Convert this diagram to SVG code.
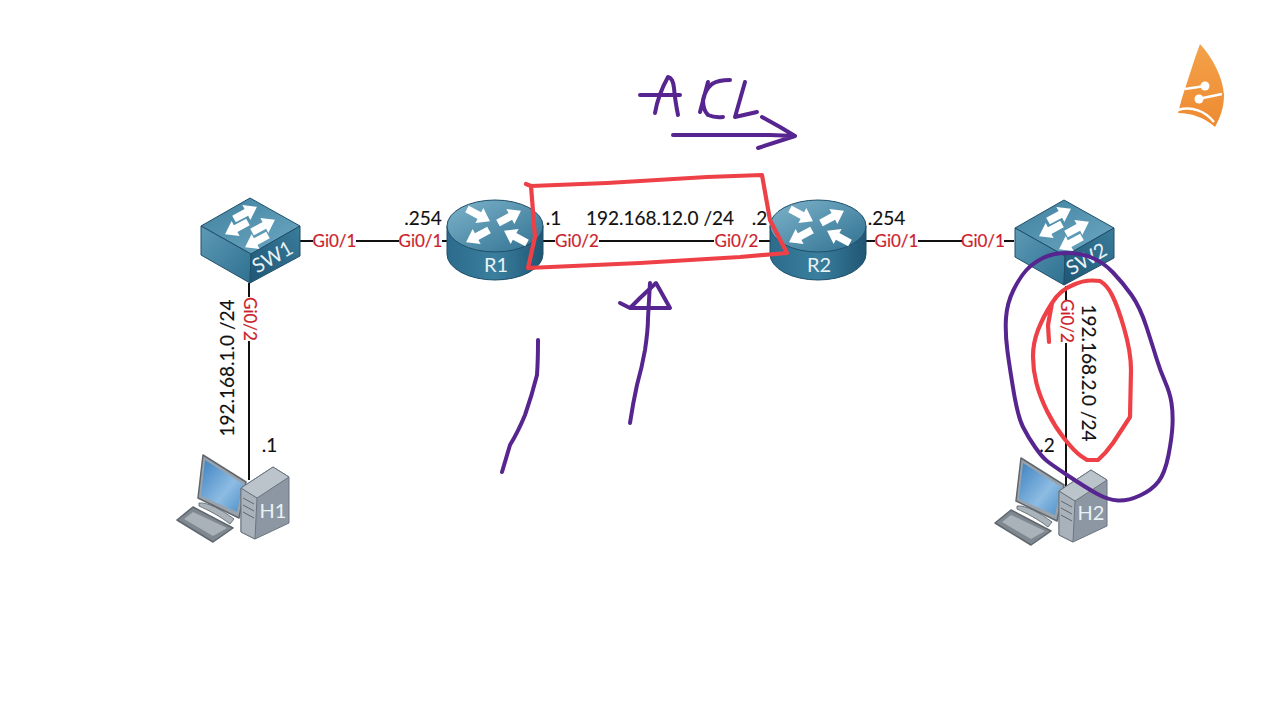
<svg xmlns="http://www.w3.org/2000/svg" xmlns:xlink="http://www.w3.org/1999/xlink" width="1280" height="720" viewBox="0 0 1280 720">
<style>
text{font-family:"Lato","Carlito","Open Sans",sans-serif}
.g{fill:#cc1f2d;stroke:#cc1f2d;stroke-width:.2;font-size:17px;text-anchor:middle}
.b{fill:#111;stroke:#111;stroke-width:.15;font-size:19px;text-anchor:middle}
.n{fill:#e8f2f6;font-size:20px;text-anchor:middle}
.c{stroke:#111;stroke-width:2;fill:none}
.r{fill:none;stroke:#ee4147;stroke-width:4.2;stroke-linecap:round;stroke-linejoin:round}
.p{fill:none;stroke:#57258f;stroke-width:4;stroke-linecap:round;stroke-linejoin:round}
</style>
<defs>
<linearGradient id="top" x1="0" y1="0" x2="1" y2="1"><stop offset="0" stop-color="#3f819f"/><stop offset="1" stop-color="#6fa9c3"/></linearGradient>
<linearGradient id="lf" x1="0" y1="0" x2="1" y2="1"><stop offset="0" stop-color="#5d9ab6"/><stop offset="1" stop-color="#2f7090"/></linearGradient>
<linearGradient id="rt" x1="0" y1="1" x2="1" y2="0"><stop offset="0" stop-color="#1f5675"/><stop offset="1" stop-color="#3a7c9b"/></linearGradient>
<linearGradient id="rtop" x1="0" y1="0" x2="1" y2="1"><stop offset="0" stop-color="#7fb4cb"/><stop offset="1" stop-color="#2e7090"/></linearGradient>
<linearGradient id="rbody" x1="0" y1="0" x2="1" y2="0"><stop offset="0" stop-color="#2c6b8b"/><stop offset="0.5" stop-color="#3a7f9e"/><stop offset="1" stop-color="#205674"/></linearGradient>
<linearGradient id="scr" x1="0" y1="0" x2="1" y2="1"><stop offset="0" stop-color="#3d82c0"/><stop offset="0.6" stop-color="#8dbce3"/><stop offset="1" stop-color="#4f90c8"/></linearGradient>
<linearGradient id="logoG" x1="0" y1="0" x2="0" y2="1"><stop offset="0" stop-color="#f3a24b"/><stop offset="1" stop-color="#ee8a30"/></linearGradient>
<path id="ar" d="M0-3.800H14V-8.500L26 0 14 8.500V3.800H0Z" fill="#fff"/>
<g id="sw">
<path d="M250 198 300 226 251 254 201 226Z" fill="url(#top)" stroke="#1f4f6a"/>
<path d="M201 226 251 254 250 283 201 255Z" fill="url(#lf)" stroke="#1f4f6a"/>
<path d="M300 226 251 254 250 283 300 256Z" fill="url(#rt)" stroke="#1f4f6a"/>
<use xlink:href="#ar" href="#ar" transform="translate(234 219) rotate(-28)"/>
<use xlink:href="#ar" href="#ar" transform="translate(248 222) rotate(152)"/>
<use xlink:href="#ar" href="#ar" transform="translate(252 232) rotate(-28)"/>
<use xlink:href="#ar" href="#ar" transform="translate(268 235) rotate(152)"/>
</g>
<g id="rtr">
<path d="M447 226V254A48 26 0 0 0 543 254V226Z" fill="url(#rbody)" stroke="#1f4f6a"/>
<ellipse cx="495" cy="226" rx="48" ry="26" fill="url(#rtop)" stroke="#1f4f6a"/>
<use xlink:href="#ar" href="#ar" transform="translate(467 209) rotate(28)"/>
<use xlink:href="#ar" href="#ar" transform="translate(498 223) rotate(-28)"/>
<use xlink:href="#ar" href="#ar" transform="translate(489 230) rotate(152)"/>
<use xlink:href="#ar" href="#ar" transform="translate(527 243) rotate(208)"/>
</g>
<g id="pc">
<path d="M213 542 177 520 193 507 233 528Z" fill="#7f8890" stroke="#5e666e" stroke-linejoin="round" stroke-width="1.500"/>
<path d="M213 536 184 519 193 512 227 528Z" fill="#aab2b9"/>
<path d="M199 503C208 502 222 510 234 519L230 524C220 516 208 510 199 506Z" fill="#aab2ba" stroke="#6d757d"/>
<path d="M203 455 246 482 239 518 198 498Z" fill="#9aa3ab" stroke="#5e666e" stroke-width="1.500" stroke-linejoin="round"/>
<path d="M205 460 243 484 237 512 201 496Z" fill="url(#scr)"/>
<path d="M273 467 289 477V523L255 539 241 532V488Z" fill="#8c97a3" stroke="#6b7580"/>
<path d="M241 488 257 498 255 539 241 532Z" fill="#a9b2ba" stroke="#6b7580"/>
<path d="M241 488 273 467 289 477 257 498Z" fill="#bcc4cb" stroke="#6b7580"/>
<path d="M243 498 254 504M243 505 254 511M243 512 254 518" stroke="#5e666e" fill="none"/>
</g>
</defs>
<rect width="1280" height="720" fill="#fff"/>

<g id="connectors">
<path class="c" d="M300 241H313M356 241H399M442 241H447"/>
<path class="c" d="M543 241H555M599 241H714M759 241H771"/>
<path class="c" d="M866 241H875M918 241H962M1004 241H1014"/>
<path class="c" d="M249 283V297M249 341V480"/>
<path class="c" d="M1066 286V300M1066 343V486"/>
</g>

<g id="SW1"><use xlink:href="#sw" href="#sw"/><text class="n" transform="translate(276 263) rotate(-30)">SW1</text></g>
<g id="SW2"><use xlink:href="#sw" href="#sw" transform="translate(814 2)"/><text class="n" transform="translate(1090 265) rotate(-30)">SW2</text></g>
<g id="R1"><use xlink:href="#rtr" href="#rtr"/><text class="n" x="496" y="272">R1</text></g>
<g id="R2"><use xlink:href="#rtr" href="#rtr" transform="translate(323 0)"/><text class="n" x="819" y="272">R2</text></g>
<g id="H1"><use xlink:href="#pc" href="#pc"/><text class="n" x="273" y="518">H1</text></g>
<g id="H2"><use xlink:href="#pc" href="#pc" transform="translate(818 3)"/><text class="n" x="1091" y="520">H2</text></g>

<g id="labels">
<text class="g" x="334.500" y="247">Gi0/1</text>
<text class="g" x="420.500" y="247">Gi0/1</text>
<text class="g" x="577" y="247">Gi0/2</text>
<text class="g" x="736.500" y="247">Gi0/2</text>
<text class="g" x="896.500" y="247">Gi0/1</text>
<text class="g" x="983" y="247">Gi0/1</text>
<text class="g" transform="translate(243.500 319) rotate(90)">Gi0/2</text>
<text class="g" transform="translate(1060.500 321) rotate(90)">Gi0/2</text>
<text class="b" x="423" y="225">.254</text>
<text class="b" x="553.500" y="225">.1</text>
<text class="b" x="660" y="225">192.168.12.0 /24</text>
<text class="b" x="759.500" y="225">.2</text>
<text class="b" x="886.500" y="225">.254</text>
<text class="b" x="269.500" y="452">.1</text>
<text class="b" x="1047" y="452">.2</text>
<text class="b" transform="translate(234 368) rotate(-90)">192.168.1.0 /24</text>
<text class="b" transform="translate(1082 373) rotate(90)">192.168.2.0 /24</text>
</g>

<g id="annotations">
<path class="r" d="M526 184 531 186 607 183 707 177 762 175 770 220 787 253 740 257 640 263 528 268 535 237 531 186"/>
<path class="r" d="M1049 342 1048 325 1052 303Q1043 317 1038 330 1033 343 1033 356.500 1033 370 1036.500 383.500 1040 397 1047.500 412 1055 427 1065 439.500 1075 452 1081 456L1087 460 1098 460Q1106 453 1113 443L1130 417 1131 370Q1131 352 1124 328 1118 307 1112 295 1107 285 1100 281 1085 279 1073 285 1060 290 1052 303"/>
<path class="p" d="M1007.500 351.500Q1005 333 1006 318 1007 303 1013.500 290 1020 277 1026.500 270 1033 263 1043 258 1053 253 1066.500 253 1080 253 1091.500 257.500 1103 262 1113 272.500 1123 283 1131.500 295 1140 307 1146.500 327 1153 347 1156.500 358.500 1160 370 1165 381.500 1170 393 1171.500 403 1173 413 1172.500 425 1172 437 1168.500 455 1165 473 1158.500 481.500 1152 490 1140 495.500 1128 501 1118 500.500 1108 500 1096.500 493.500 1085 487 1068.500 476 1052 465 1047 461 1042 457 1035 447 1028 437 1023 427 1018 417 1014 393.500 1010 370 1007.500 351.500"/>
<path class="p" d="M630 423Q633 403 637 385 642 367 645 350 648 330 648 318L650 283"/>
<path class="p" d="M620 303 630 308 640 298 656 283 670 308 653 308 630 308"/>
<path class="p" d="M538 340Q538 360 537 375 532 395 525 415 518 432 510 445L502 472"/>
<path class="p" d="M640 95H680M655 113Q658 95 668 77 673 78 674 88 675 100 678 115"/>
<path class="p" d="M708 82 700 112M730 80Q718 80 712 84 705 90 703 100 703 110 708 115 715 118 723 117M745 82 735 117 757 112"/>
<path class="p" d="M673 135H770L795 136M762 117 780 127 795 136 758 148"/>
</g>

<g id="logo">
<path d="M1200 44C1213 58 1223 78 1224 95 1224 108 1220 118 1215 127 1205 118 1192 113 1178 113L1182 98 1195 58Z" fill="url(#logoG)"/>
<path d="M1185 89 1205 86M1198 99 1222 94M1178 110C1192 106 1205 111 1214 122" stroke="#fff" stroke-width="2.500" fill="none"/>
<circle cx="1205" cy="86" r="4.500" fill="#fff"/><circle cx="1199" cy="99" r="4.500" fill="#fff"/>
</g>
</svg>
